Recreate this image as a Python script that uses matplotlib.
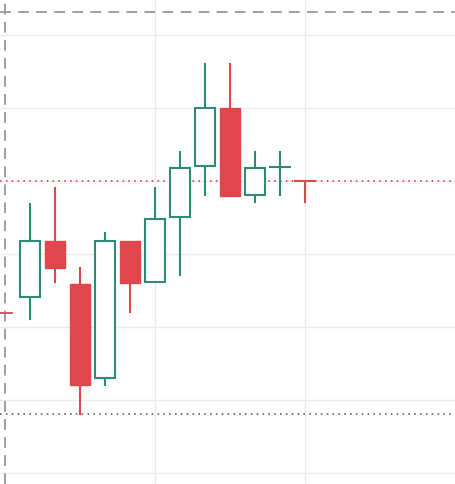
import matplotlib
matplotlib.use("Agg")
import matplotlib.pyplot as plt
import numpy as np

GREEN = "#2e8b74"
RED = "#e0474c"

opens = [24.1, 31.8, 25.9, 13.0, 31.8, 26.2, 35.1, 42.1, 50.0, 38.1, 41.9, 40.0]
closes = [31.8, 28.1, 12.1, 31.8, 26.0, 34.8, 41.8, 50.0, 37.9, 41.8, 41.9, 40.0]
highs = [36.8, 39.0, 28.1, 32.9, 31.8, 39.0, 44.0, 56.0, 56.0, 44.0, 44.0, 40.0]
lows = [21.1, 26.2, 8.1, 12.1, 22.1, 26.2, 27.1, 38.1, 37.9, 37.1, 38.1, 37.1]
up = [True, False, False, True, False, True, True, True, False, True, True, False]

last_price = 40.0
low_line = 8.1
top_line = 63.15
left_mark = 21.9

fig = plt.figure(figsize=(4.56, 4.84), dpi=100)
ax = fig.add_axes([0, 0, 1, 1])
ax.set_xlim(-1.2, 17.04)
ax.set_ylim(-1.5, 64.8)
ax.axis("off")

for y in np.arange(0, 61, 10):
    ax.axhline(y, color="#ececec", lw=1, zorder=0)
for x in [5, 11]:
    ax.axvline(x, color="#ececec", lw=1, zorder=0)

ax.axhline(top_line, color="#999999", lw=1.3, ls=(0, (6, 4)))
ax.axvline(-1, color="#999999", lw=1.3, ls=(0, (6, 4)))
ax.axhline(last_price, color=RED, lw=1.2, ls=(0, (1, 2.5)))
ax.axhline(low_line, color="#666666", lw=1.2, ls=(0, (1, 2.5)))
ax.plot([-1.2, -0.72], [left_mark, left_mark], color=RED, lw=1.3)

w = 0.8
for i, (o, c, h, l, u) in enumerate(zip(opens, closes, highs, lows, up)):
    col = GREEN if u else RED
    lo, hi = min(o, c), max(o, c)
    ax.plot([i, i], [hi, h], color=col, lw=1.5, zorder=2)
    ax.plot([i, i], [l, lo], color=col, lw=1.5, zorder=2)
    if hi - lo < 0.3:
        ax.plot([i - w / 2, i + w / 2], [o, o], color=col, lw=1.5, zorder=3)
    elif u:
        ax.add_patch(plt.Rectangle((i - w / 2, lo), w, hi - lo, facecolor="white",
                                   edgecolor=col, lw=1.5, zorder=3))
    else:
        ax.add_patch(plt.Rectangle((i - w / 2, lo), w, hi - lo, facecolor=col,
                                   edgecolor=col, lw=1.0, zorder=3))

fig.savefig("out.png", dpi=100)
